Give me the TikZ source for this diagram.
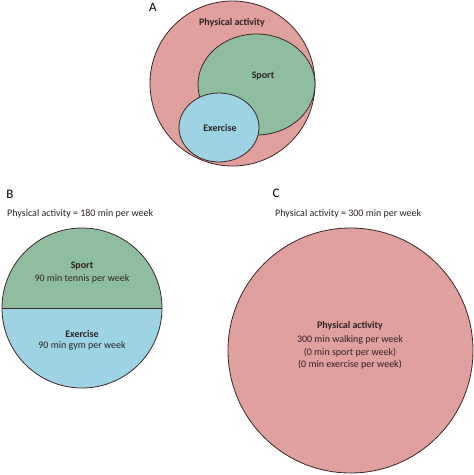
\documentclass[tikz,border=0pt]{standalone}
\usepackage{fontspec}
\setmainfont{Carlito}
\definecolor{pinkA}{RGB}{224,160,157}
\definecolor{greenA}{RGB}{143,189,160}
\definecolor{blueA}{RGB}{157,211,228}
\definecolor{edge}{RGB}{60,40,40}
\definecolor{txt}{RGB}{45,35,35}
\begin{document}
\begin{tikzpicture}[x=1pt,y=-1pt,
  shp/.style={draw=edge, line width=0.8pt},
  lbl/.style={text=txt, font=\bfseries\fontsize{10}{12}\selectfont, inner sep=0pt},
  body/.style={text=txt, font=\fontsize{10}{12}\selectfont, inner sep=0pt},
  panel/.style={text=black, font=\fontsize{13}{14}\selectfont, inner sep=0pt},
  caption/.style={text=txt, font=\fontsize{10}{12}\selectfont, inner sep=0pt, anchor=west}]
\useasboundingbox (0,0) rectangle (474,475);
\fill[white] (0,0) rectangle (474,475);
% Panel A
\draw[shp, fill=pinkA] (232.5,83.5) circle[radius=82.5];
\draw[shp, fill=greenA] (256.5,84.5) ellipse[x radius=58.5, y radius=50.5];
\draw[shp, fill=blueA] (219,127.5) ellipse[x radius=40, y radius=34.5];
\node[panel] (la) at (153,7) {A};
\node[lbl] (apa) at (232,23) {Physical activity};
\node[lbl] (asp) at (263,76) {Sport};
\node[lbl] (aex) at (220,128) {Exercise};
% Panel B
\begin{scope}
  \clip (0,220) rectangle (170,308);
  \fill[greenA] (82,308) circle[radius=80];
\end{scope}
\begin{scope}
  \clip (0,308) rectangle (170,395);
  \fill[blueA] (82,308) circle[radius=80];
\end{scope}
\draw[shp] (82,308) circle[radius=80];
\coordinate (bl) at (2,308);
\coordinate (br) at (162,308);
\draw[shp] (bl) -- (br);
\node[panel] (lb) at (10,194) {B};
\node[caption] (bcap) at (7,214) {Physical activity = 180 min per week};
\node[lbl] (bsp) at (82,266) {Sport};
\node[body] (bspt) at (82,279) {90 min tennis per week};
\node[lbl] (bex) at (82,334) {Exercise};
\node[body] (bext) at (82,346) {90 min gym per week};
% Panel C
\draw[shp, fill=pinkA] (350.5,350.5) circle[radius=122.5];
\node[panel] (lc) at (276,193) {C};
\node[caption] (ccap) at (275,214) {Physical activity = 300 min per week};
\node[lbl] (cpa) at (350,326) {Physical activity};
\node[body] (c1) at (350,340) {300 min walking per week};
\node[body] (c2) at (350,353) {(0 min sport per week)};
\node[body] (c3) at (350,365) {(0 min exercise per week)};
\end{tikzpicture}
\end{document}
